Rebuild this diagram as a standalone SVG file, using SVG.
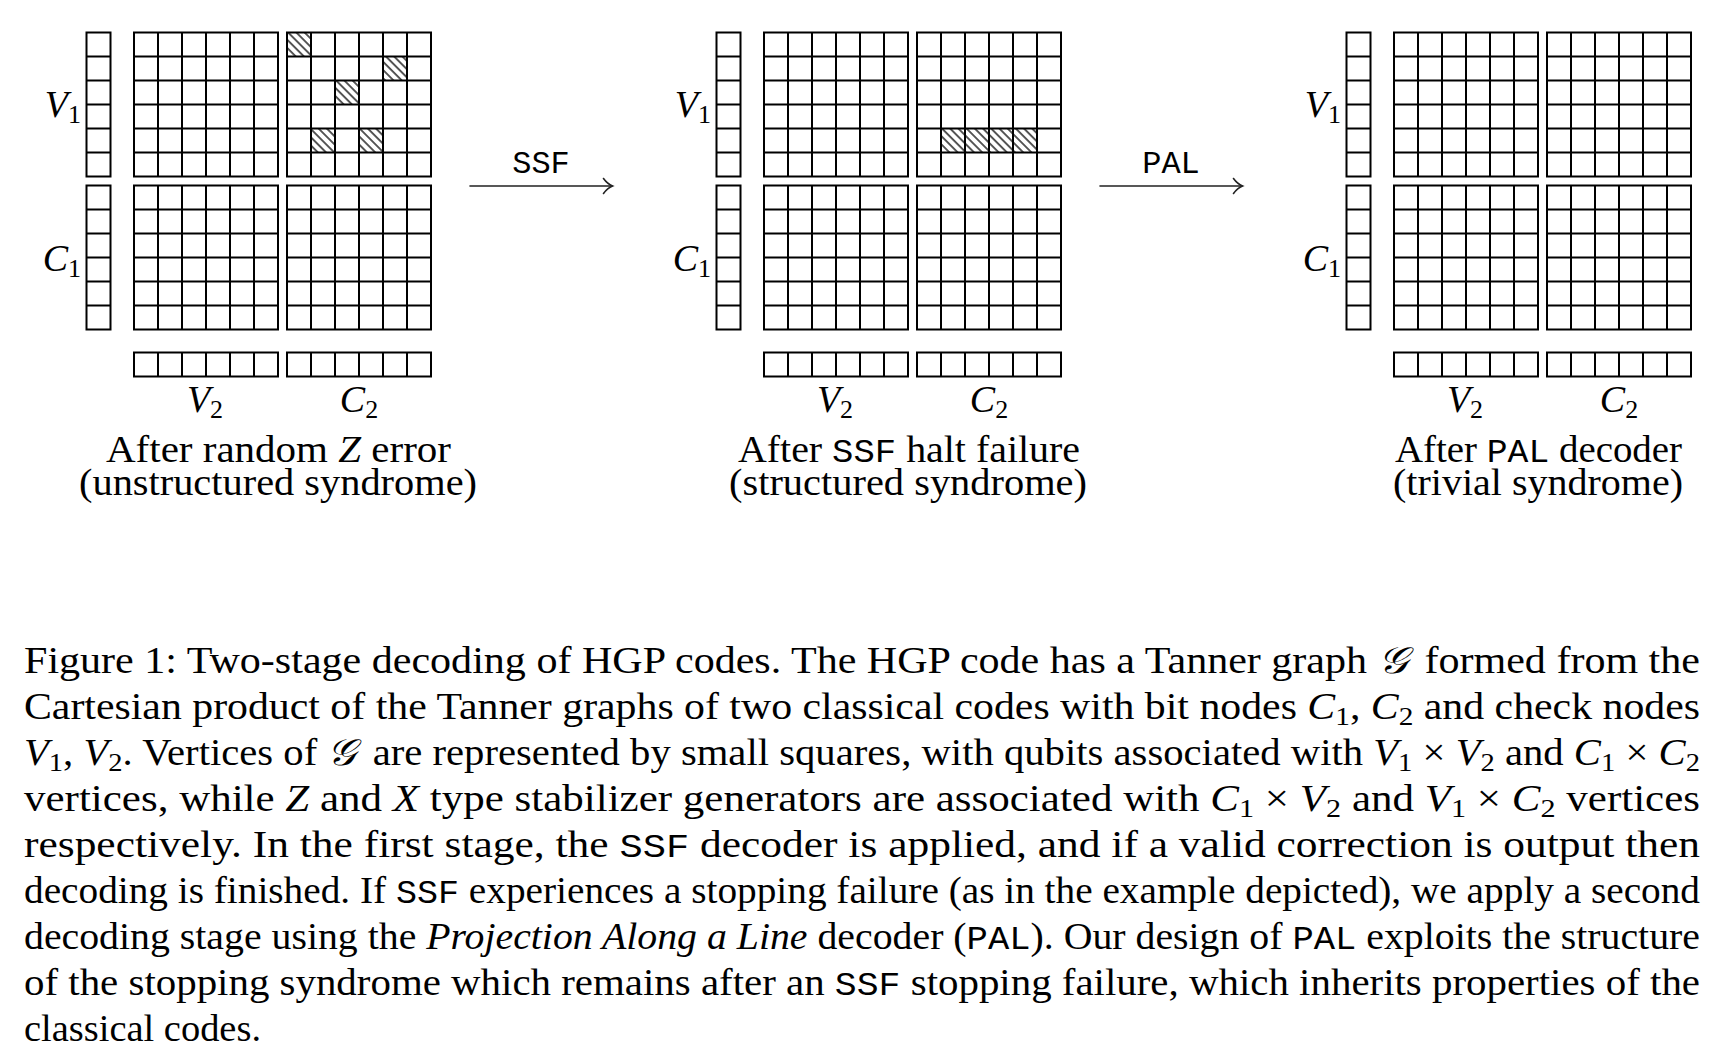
<svg xmlns="http://www.w3.org/2000/svg" xmlns:xlink="http://www.w3.org/1999/xlink" width="1724" height="1064" viewBox="0 0 1724 1064">
<style>
.grid{fill:none;stroke:#000;stroke-width:2}
.t{font-family:"Liberation Serif",serif;font-size:37px;fill:#000}
.m{font-family:"Liberation Serif",serif;font-size:38px;font-style:italic;fill:#000}
.i{font-style:italic}
.sb{font-size:26px;font-style:normal}
.tt{font-family:"Liberation Mono",monospace;font-size:33px}
.lbl{font-family:"Liberation Mono",monospace;font-size:32px;fill:#000}
.arr{fill:none;stroke:#222;stroke-width:1.6;stroke-linecap:round}
.h{fill:url(#hatch);stroke:none}
</style>
<defs>
<pattern id="hatch" width="5.8" height="5.8" patternUnits="userSpaceOnUse" patternTransform="rotate(-45)">
<line x1="1" y1="0" x2="1" y2="5.8" stroke="#000" stroke-width="1.3"/>
</pattern>
<path id="g6" class="grid" d="M0 0H144V144H0Z M24 0V144 M48 0V144 M72 0V144 M96 0V144 M120 0V144 M0 24H144 M0 48H144 M0 72H144 M0 96H144 M0 120H144"/>
<path id="col" class="grid" d="M0 0H24V144H0Z M0 24H24 M0 48H24 M0 72H24 M0 96H24 M0 120H24"/>
<path id="row" class="grid" d="M0 0H144V24H0Z M24 0V24 M48 0V24 M72 0V24 M96 0V24 M120 0V24"/>
</defs>
<rect width="1724" height="1064" fill="#fff"/>

<g id="panel-random">
<rect class="h" x="287" y="32.5" width="24" height="24"/>
<rect class="h" x="383" y="56.5" width="24" height="24"/>
<rect class="h" x="335" y="80.5" width="24" height="24"/>
<rect class="h" x="311" y="128.5" width="24" height="24"/>
<rect class="h" x="359" y="128.5" width="24" height="24"/>
<use xlink:href="#col" x="86.5" y="32.5"/>
<use xlink:href="#col" x="86.5" y="185.5"/>
<use xlink:href="#g6" x="134" y="32.5"/>
<use xlink:href="#g6" x="287" y="32.5"/>
<use xlink:href="#g6" x="134" y="185.5"/>
<use xlink:href="#g6" x="287" y="185.5"/>
<use xlink:href="#row" x="134" y="352.5"/>
<use xlink:href="#row" x="287" y="352.5"/>
<text class="m" x="81" y="117" text-anchor="end">V<tspan class="sb" dy="6">1</tspan></text>
<text class="m" x="81" y="270.5" text-anchor="end">C<tspan class="sb" dy="6">1</tspan></text>
<text class="m" x="205" y="412" text-anchor="middle">V<tspan class="sb" dy="6">2</tspan></text>
<text class="m" x="359" y="412" text-anchor="middle">C<tspan class="sb" dy="6">2</tspan></text>
<text class="t" x="106" y="462" textLength="345" lengthAdjust="spacingAndGlyphs">After random <tspan class="i">Z</tspan> error</text>
<text class="t" x="79" y="494.5" textLength="398" lengthAdjust="spacingAndGlyphs">(unstructured syndrome)</text>
</g>

<g id="panel-ssf">
<rect class="h" x="941" y="128.5" width="96" height="24"/>
<use xlink:href="#col" x="716.5" y="32.5"/>
<use xlink:href="#col" x="716.5" y="185.5"/>
<use xlink:href="#g6" x="764" y="32.5"/>
<use xlink:href="#g6" x="917" y="32.5"/>
<use xlink:href="#g6" x="764" y="185.5"/>
<use xlink:href="#g6" x="917" y="185.5"/>
<use xlink:href="#row" x="764" y="352.5"/>
<use xlink:href="#row" x="917" y="352.5"/>
<text class="m" x="711" y="117" text-anchor="end">V<tspan class="sb" dy="6">1</tspan></text>
<text class="m" x="711" y="270.5" text-anchor="end">C<tspan class="sb" dy="6">1</tspan></text>
<text class="m" x="835" y="412" text-anchor="middle">V<tspan class="sb" dy="6">2</tspan></text>
<text class="m" x="989" y="412" text-anchor="middle">C<tspan class="sb" dy="6">2</tspan></text>
<text class="t" x="738" y="462" textLength="342" lengthAdjust="spacingAndGlyphs">After <tspan class="tt">SSF</tspan> halt failure</text>
<text class="t" x="729" y="494.5" textLength="358" lengthAdjust="spacingAndGlyphs">(structured syndrome)</text>
</g>

<g id="panel-pal">
<use xlink:href="#col" x="1346.5" y="32.5"/>
<use xlink:href="#col" x="1346.5" y="185.5"/>
<use xlink:href="#g6" x="1394" y="32.5"/>
<use xlink:href="#g6" x="1547" y="32.5"/>
<use xlink:href="#g6" x="1394" y="185.5"/>
<use xlink:href="#g6" x="1547" y="185.5"/>
<use xlink:href="#row" x="1394" y="352.5"/>
<use xlink:href="#row" x="1547" y="352.5"/>
<text class="m" x="1341" y="117" text-anchor="end">V<tspan class="sb" dy="6">1</tspan></text>
<text class="m" x="1341" y="270.5" text-anchor="end">C<tspan class="sb" dy="6">1</tspan></text>
<text class="m" x="1465" y="412" text-anchor="middle">V<tspan class="sb" dy="6">2</tspan></text>
<text class="m" x="1619" y="412" text-anchor="middle">C<tspan class="sb" dy="6">2</tspan></text>
<text class="t" x="1395" y="462" textLength="287" lengthAdjust="spacingAndGlyphs">After <tspan class="tt">PAL</tspan> decoder</text>
<text class="t" x="1393" y="494.5" textLength="290" lengthAdjust="spacingAndGlyphs">(trivial syndrome)</text>
</g>

<g id="connectors">
<g id="arrow-ssf">
<line class="arr" x1="470" y1="186" x2="612" y2="186"/>
<path class="arr" d="M603.5 178.5 Q607.5 184 612.5 186 Q607.5 188 603.5 193.5"/>
<text class="lbl" x="541" y="173" text-anchor="middle">SSF</text>
</g>
<g id="arrow-pal">
<line class="arr" x1="1100" y1="186" x2="1242" y2="186"/>
<path class="arr" d="M1233.5 178.5 Q1237.5 184 1242.5 186 Q1237.5 188 1233.5 193.5"/>
<text class="lbl" x="1171" y="173" text-anchor="middle">PAL</text>
</g>
</g>

<g id="caption">
<text class="t" x="24" y="673" textLength="1676" lengthAdjust="spacingAndGlyphs">Figure 1:  Two-stage decoding of HGP codes.  The HGP code has a Tanner graph <tspan class="i">𝒢</tspan><tspan dx="6"> formed from the</tspan></text>
<text class="t" x="24" y="719" textLength="1676" lengthAdjust="spacingAndGlyphs">Cartesian product of the Tanner graphs of two classical codes with bit nodes <tspan class="i">C</tspan><tspan class="sb" dy="6">1</tspan><tspan dy="-6">, </tspan><tspan class="i">C</tspan><tspan class="sb" dy="6">2</tspan><tspan dy="-6"> and check nodes</tspan></text>
<text class="t" x="24" y="765" textLength="1676" lengthAdjust="spacingAndGlyphs"><tspan class="i">V</tspan><tspan class="sb" dy="6">1</tspan><tspan dy="-6">, </tspan><tspan class="i">V</tspan><tspan class="sb" dy="6">2</tspan><tspan dy="-6">.  Vertices of </tspan><tspan class="i">𝒢</tspan><tspan dx="6"> are represented by small squares, with qubits associated with </tspan><tspan class="i">V</tspan><tspan class="sb" dy="6">1</tspan><tspan dy="-6"> × </tspan><tspan class="i">V</tspan><tspan class="sb" dy="6">2</tspan><tspan dy="-6"> and </tspan><tspan class="i">C</tspan><tspan class="sb" dy="6">1</tspan><tspan dy="-6"> × </tspan><tspan class="i">C</tspan><tspan class="sb" dy="6">2</tspan></text>
<text class="t" x="24" y="811" textLength="1676" lengthAdjust="spacingAndGlyphs">vertices, while <tspan class="i">Z</tspan> and <tspan class="i">X</tspan> type stabilizer generators are associated with <tspan class="i">C</tspan><tspan class="sb" dy="6">1</tspan><tspan dy="-6"> × </tspan><tspan class="i">V</tspan><tspan class="sb" dy="6">2</tspan><tspan dy="-6"> and </tspan><tspan class="i">V</tspan><tspan class="sb" dy="6">1</tspan><tspan dy="-6"> × </tspan><tspan class="i">C</tspan><tspan class="sb" dy="6">2</tspan><tspan dy="-6"> vertices</tspan></text>
<text class="t" x="24" y="857" textLength="1676" lengthAdjust="spacingAndGlyphs">respectively.  In the first stage, the <tspan class="tt">SSF</tspan> decoder is applied, and if a valid correction is output then</text>
<text class="t" x="24" y="903" textLength="1676" lengthAdjust="spacingAndGlyphs">decoding is finished. If <tspan class="tt">SSF</tspan> experiences a stopping failure (as in the example depicted), we apply a second</text>
<text class="t" x="24" y="949" textLength="1676" lengthAdjust="spacingAndGlyphs">decoding stage using the <tspan class="i">Projection Along a Line</tspan> decoder (<tspan class="tt">PAL</tspan>). Our design of <tspan class="tt">PAL</tspan> exploits the structure</text>
<text class="t" x="24" y="995" textLength="1676" lengthAdjust="spacingAndGlyphs">of the stopping syndrome which remains after an <tspan class="tt">SSF</tspan> stopping failure, which inherits properties of the</text>
<text class="t" x="24" y="1041" textLength="237" lengthAdjust="spacingAndGlyphs">classical codes.</text>
</g>
</svg>
